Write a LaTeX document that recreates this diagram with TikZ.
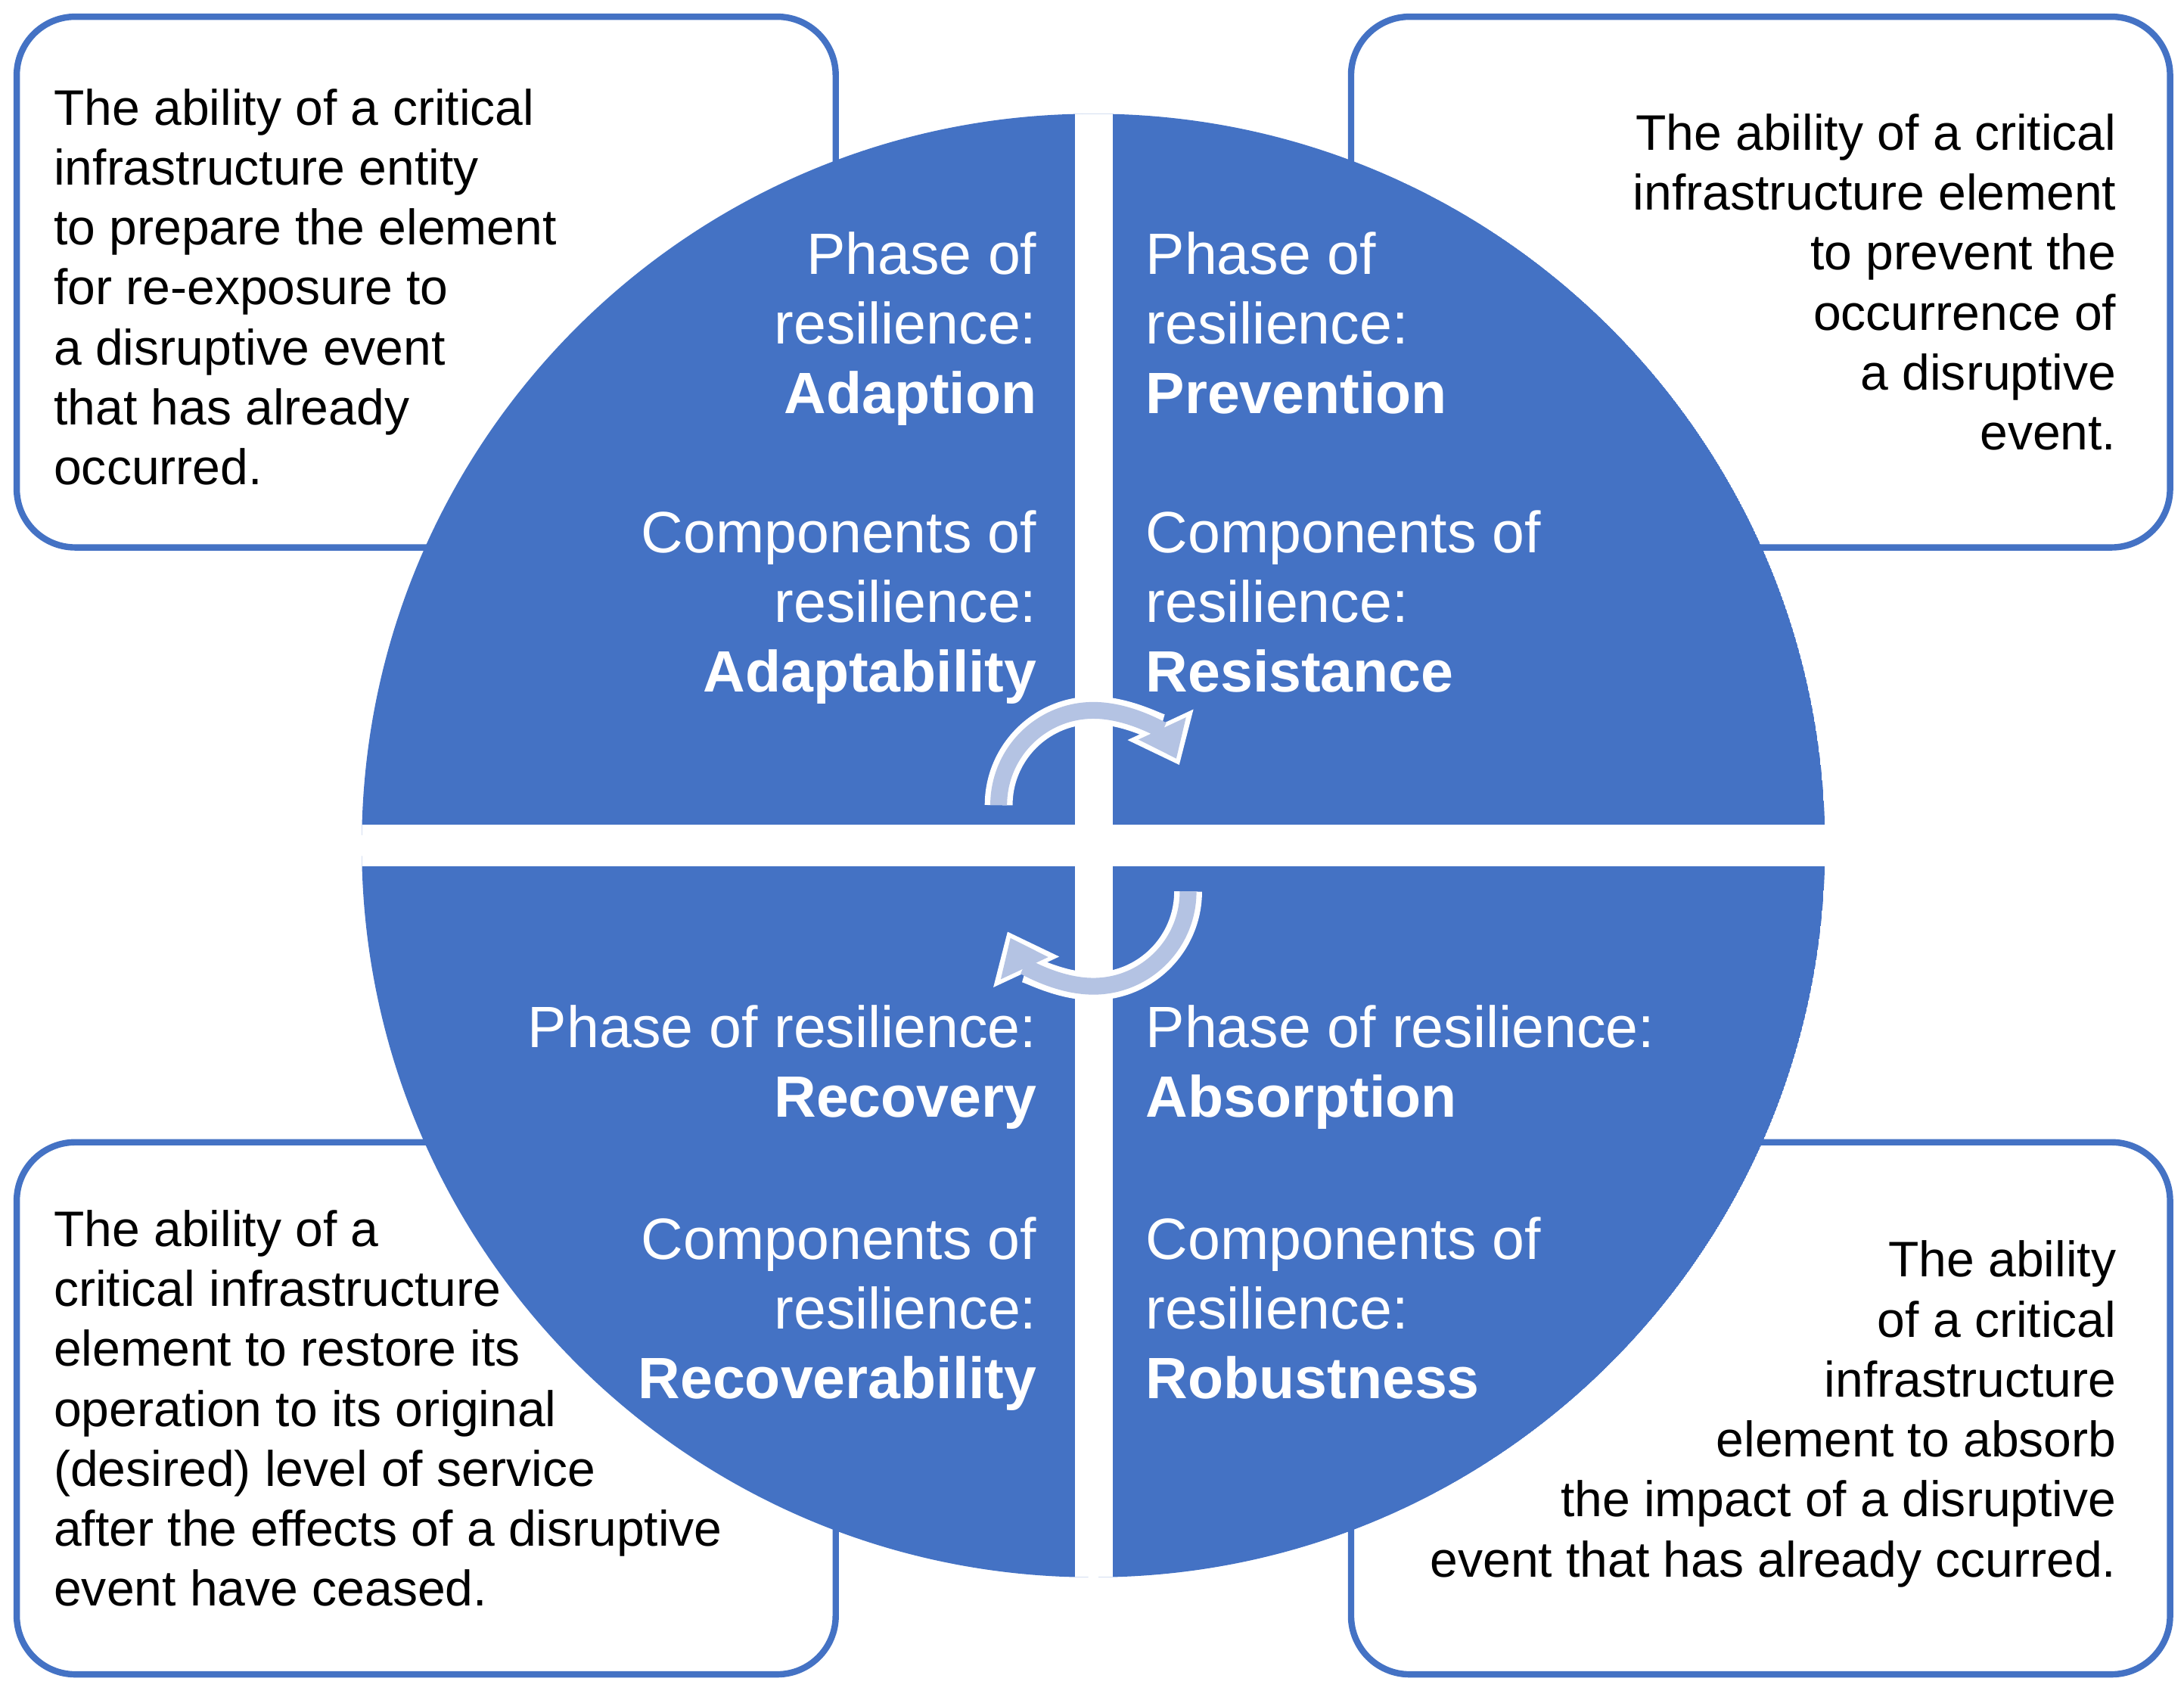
\documentclass[tikz,border=0pt]{standalone}
\usepackage{fontspec}
\setmainfont{Liberation Sans}
\usetikzlibrary{arrows.meta}
\definecolor{cblue}{HTML}{4472C4}
\definecolor{carrow}{HTML}{B4C3E3}
\begin{document}
\begin{tikzpicture}[x=0.01cm,y=0.01cm,
  box/.style={draw=cblue,line width=1.3pt,rounded corners=0.42cm,fill=white},
  desc/.style={inner sep=0pt,font=\fontsize{10.2}{12.24}\selectfont,text=black},
  quad/.style={inner sep=0pt,font=\fontsize{11.9}{14.2}\selectfont,text=white},
  arr/.style={line width=0.2cm,draw=white,-{Triangle[width=0.5cm,length=0.32cm]}},
  arri/.style={line width=0.12cm,draw=carrow,-{Triangle[width=0.36cm,length=0.24cm]},shorten >=0.05cm}]
\useasboundingbox (0,0) rectangle (1568,1218);
\draw[box] (12,825) rectangle (600,1206);
\draw[box] (970,825) rectangle (1558,1206);
\draw[box] (12,16) rectangle (600,398);
\draw[box] (970,16) rectangle (1558,398);
\begin{scope}
\clip (785,611) circle[radius=5.25cm];
\fill[cblue] (785,611) circle[radius=5.25cm];
\fill[white] (772,0) rectangle (799,1218);
\fill[white] (0,596) rectangle (1568,626);
\end{scope}
% arrows
\coordinate (a1) at (717,640);
\coordinate (b1) at (853,578);
\draw[arr] (a1) arc[start angle=180,end angle=25,radius=0.68cm];
\draw[arri] (a1) arc[start angle=180,end angle=25,radius=0.68cm];
\draw[arr] (b1) arc[start angle=0,end angle=-155,radius=0.68cm];
\draw[arri] (b1) arc[start angle=0,end angle=-155,radius=0.68cm];
% descriptions
\node[desc,anchor=north west,align=left] (tl) at (38,1155) {The ability of a critical\\infrastructure entity\\to prepare the element\\for re-exposure to\\a disruptive event\\that has already\\occurred.};
\node[desc,anchor=north east,align=right] (tr) at (1520,1137) {The ability of a critical\\infrastructure element\\to prevent the\\occurrence of\\a disruptive\\event.};
\node[desc,anchor=north west,align=left] (bl) at (38,350) {The ability of a\\critical infrastructure\\element to restore its\\operation to its original\\(desired) level of service\\after the effects of a disruptive\\event have ceased.};
\node[desc,anchor=north east,align=right] (br) at (1520,328) {The ability\\of a critical\\infrastructure\\element to absorb\\the impact of a disruptive\\event that has already ccurred.};
% quadrants
\node[quad,anchor=north east,align=right] (q1) at (745,1052) {Phase of\\resilience:\\\textbf{Adaption}};
\node[quad,anchor=north east,align=right] (q2) at (745,852) {Components of\\resilience:\\\textbf{Adaptability}};
\node[quad,anchor=north west,align=left] (q3) at (822,1052) {Phase of\\resilience:\\\textbf{Prevention}};
\node[quad,anchor=north west,align=left] (q4) at (822,852) {Components of\\resilience:\\\textbf{Resistance}};
\node[quad,anchor=north east,align=right] (q5) at (745,497) {Phase of resilience:\\\textbf{Recovery}};
\node[quad,anchor=north east,align=right] (q6) at (745,345) {Components of\\resilience:\\\textbf{Recoverability}};
\node[quad,anchor=north west,align=left] (q7) at (822,497) {Phase of resilience:\\\textbf{Absorption}};
\node[quad,anchor=north west,align=left] (q8) at (822,345) {Components of\\resilience:\\\textbf{Robustness}};
\end{tikzpicture}
\end{document}
